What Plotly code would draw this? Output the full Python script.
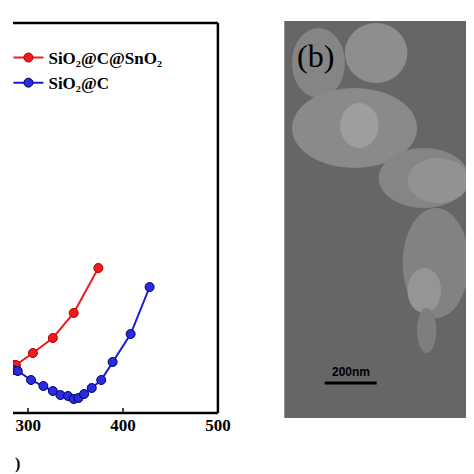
import plotly.graph_objects as go

red_x = [284, 287, 305, 326, 348, 374]
red_y = [48, 48, 60, 75, 100, 145]
blue_x = [284, 289, 303, 316, 326, 334, 342, 348, 353, 359, 367, 377, 389, 408, 428]
blue_y = [43, 42, 33, 27, 22, 18, 17, 14, 15, 19, 25, 33, 51, 79, 126]
xticks = [300, 400, 500]

W = 474
def px(v): return v / W
fig = go.Figure()
fig.add_trace(go.Scatter(x=red_x, y=red_y, mode="lines+markers", name="<b>SiO₂@C@SnO₂</b>",
    line=dict(color="#ee1c1c", width=2), marker=dict(size=9, color="#ee1c1c", line=dict(color="#a00", width=1))))
fig.add_trace(go.Scatter(x=blue_x, y=blue_y, mode="lines+markers", name="<b>SiO₂@C</b>",
    line=dict(color="#1a1ad6", width=2), marker=dict(size=9, color="#2a2ae0", line=dict(color="#006", width=1))))

shapes = [
    dict(type="line", xref="paper", yref="paper", x0=0, x1=px(213), y0=1-px(15), y1=1-px(15), line=dict(color="black", width=2.5)),
    dict(type="line", xref="paper", yref="paper", x0=px(213), x1=px(213), y0=1-px(15), y1=1-px(405), line=dict(color="black", width=2.5)),
    dict(type="line", xref="paper", yref="paper", x0=0, x1=px(213), y0=1-px(405), y1=1-px(405), line=dict(color="black", width=2.5)),
    dict(type="rect", xref="paper", yref="paper", x0=px(282), x1=1, y0=1-px(13), y1=1-px(410), fillcolor="#666666", line=dict(width=0), layer="below"),
]
blobs = [(290, 20, 345, 90, "#858585"), (345, 15, 410, 75, "#8e8e8e"), (290, 80, 420, 160, "#8a8a8a"),
         (340, 95, 380, 140, "#9e9e9e"), (380, 140, 474, 200, "#858585"), (410, 150, 474, 195, "#929292"),
         (405, 200, 474, 310, "#828282"), (410, 260, 445, 305, "#959595"), (420, 300, 440, 345, "#7e7e7e")]
for a, b, c, d, col in blobs:
    shapes.append(dict(type="circle", xref="paper", yref="paper", x0=px(a), x1=px(c), y0=1-px(b), y1=1-px(d),
                       fillcolor=col, line=dict(width=0), layer="below"))
shapes.append(dict(type="line", xref="paper", yref="paper", x0=px(324), x1=px(378), y0=1-px(375), y1=1-px(375), line=dict(color="black", width=3)))

fig.update_layout(
    width=474, height=474, margin=dict(l=0, r=0, t=0, b=0), paper_bgcolor="white", plot_bgcolor="rgba(0,0,0,0)",
    font=dict(family="Liberation Serif", color="black"),
    xaxis=dict(domain=[0, px(213)], range=[284, 500], tickvals=xticks, ticktext=["<b>%d</b>" % t for t in xticks],
               ticks="inside", ticklen=5, tickwidth=2,
               showgrid=False, zeroline=False, tickfont=dict(size=17, family="Liberation Serif"), showline=False),
    yaxis=dict(domain=[1-px(405), 1-px(15)], range=[0, 390], showticklabels=False, showgrid=False, zeroline=False, showline=False),
    legend=dict(x=-0.01, y=1-px(32), xanchor="left", yanchor="top", bgcolor="rgba(0,0,0,0)",
                font=dict(size=17, family="Liberation Serif"), itemwidth=30, tracegroupgap=0),
    shapes=shapes,
    annotations=[
        dict(text="(b)", xref="paper", yref="paper", x=px(293), y=1-px(48), xanchor="left", yanchor="middle", showarrow=False,
             font=dict(size=32, family="Liberation Serif", color="black")),
        dict(text="<b>200nm</b>", xref="paper", yref="paper", x=px(351), y=1-px(364), xanchor="center", yanchor="middle", showarrow=False,
             font=dict(size=12, family="Liberation Sans", color="black")),
        dict(text="<b>)</b>", xref="paper", yref="paper", x=0, y=1-px(456), xanchor="left", yanchor="middle", showarrow=False,
             font=dict(size=16, family="Liberation Serif", color="black")),
    ],
)
fig.write_html("out.html")
